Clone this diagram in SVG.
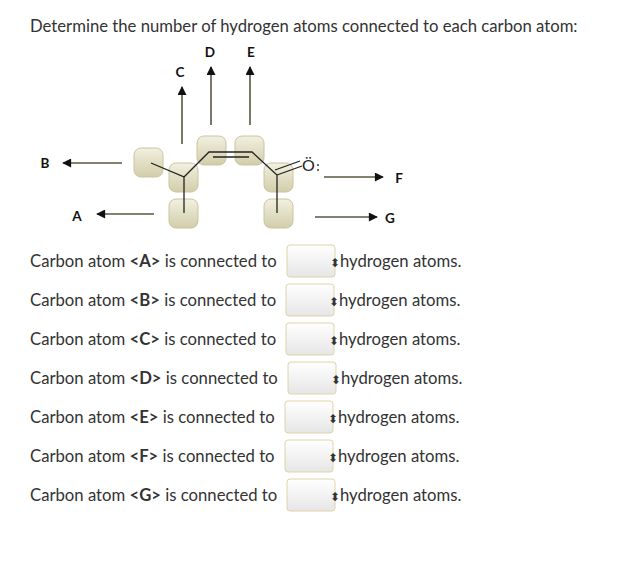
<svg xmlns="http://www.w3.org/2000/svg" width="641" height="562" viewBox="0 0 641 562">
<defs>
<linearGradient id="bg" x1="0" y1="0" x2="0" y2="1"><stop offset="0" stop-color="#f2f0e0"/><stop offset="1" stop-color="#d2cdaa"/></linearGradient>
<linearGradient id="sel" x1="0" y1="0" x2="0" y2="1"><stop offset="0" stop-color="#ffffff"/><stop offset="1" stop-color="#e6e6e6"/></linearGradient>
<marker id="ah" viewBox="0 0 10 10" refX="9" refY="5" markerWidth="11" markerHeight="9" markerUnits="userSpaceOnUse" orient="auto"><path d="M0,0L10,5L0,10z" fill="#111"/></marker>
</defs>
<style>
text{font-family:Lato,"Open Sans",sans-serif;fill:#333}
.t{font-size:16.7px}
.l{font-size:13.5px;font-weight:bold;fill:#111;text-anchor:middle}
.box{fill:url(#bg);stroke:#c9c4a0;stroke-width:1}
.bond{stroke:#222;stroke-width:1.3;fill:none}
.arr{stroke:#5a5640;stroke-width:1.6;marker-end:url(#ah)}
.sel{fill:url(#sel);stroke:#ddd4a8;stroke-width:1}
.ud{font-size:12px}
</style>
<rect width="641" height="562" fill="#fff"/>
<text class="t" x="30" y="32">Determine the number of hydrogen atoms connected to each carbon atom:</text>
<g id="boxes">
<rect class="box" x="134" y="148" width="29" height="29" rx="7"/>
<rect class="box" x="169" y="163" width="29" height="29" rx="7"/>
<rect class="box" x="169" y="199" width="29" height="29" rx="7"/>
<rect class="box" x="197" y="136" width="29" height="29" rx="7"/>
<rect class="box" x="235" y="136" width="29" height="29" rx="7"/>
<rect class="box" x="264" y="163" width="29" height="29" rx="7"/>
<rect class="box" x="264" y="199" width="29" height="29" rx="7"/>
</g>
<g id="bonds">
<path class="bond" d="M151,163L184,177L184,213M184,177L209,152L252,152L277,175L277,213M213,157L249,157M277,175L302,166M275,170L300,161"/>
<text x="302" y="171" style="font-size:16px;fill:#222">Ö</text>
<circle cx="318" cy="165" r="0.9" fill="#222"/><circle cx="318" cy="170" r="0.9" fill="#222"/>
</g>
<g id="connectors">
<line class="arr" x1="182" y1="144" x2="182" y2="87"/>
<line class="arr" x1="211" y1="125" x2="211" y2="67"/>
<line class="arr" x1="250" y1="125" x2="250" y2="67"/>
<line class="arr" x1="122" y1="163" x2="63" y2="163"/>
<line class="arr" x1="154" y1="214" x2="97" y2="214"/>
<line class="arr" x1="324" y1="177" x2="383" y2="177"/>
<line class="arr" x1="315" y1="217" x2="377" y2="217"/>
</g>
<g id="labels">
<text class="l" x="180" y="77">C</text>
<text class="l" x="210" y="57">D</text>
<text class="l" x="251" y="57">E</text>
<text class="l" x="45" y="168">B</text>
<text class="l" x="77" y="221">A</text>
<text class="l" x="399" y="183">F</text>
<text class="l" x="390" y="223">G</text>
</g>
<g id="rows">
<g id="rowA"><text class="t" x="30" y="267">Carbon atom <tspan font-weight="bold">&lt;A&gt;</tspan> is connected to</text><rect class="sel" x="287" y="245" width="48" height="32" rx="3"/><text class="ud" x="330" y="267">⬍</text><text class="t" x="340" y="267">hydrogen atoms.</text></g>
<g id="rowB"><text class="t" x="30" y="306">Carbon atom <tspan font-weight="bold">&lt;B&gt;</tspan> is connected to</text><rect class="sel" x="286" y="284" width="48" height="32" rx="3"/><text class="ud" x="329" y="306">⬍</text><text class="t" x="339" y="306">hydrogen atoms.</text></g>
<g id="rowC"><text class="t" x="30" y="345">Carbon atom <tspan font-weight="bold">&lt;C&gt;</tspan> is connected to</text><rect class="sel" x="286" y="323" width="48" height="32" rx="3"/><text class="ud" x="329" y="345">⬍</text><text class="t" x="339" y="345">hydrogen atoms.</text></g>
<g id="rowD"><text class="t" x="30" y="384">Carbon atom <tspan font-weight="bold">&lt;D&gt;</tspan> is connected to</text><rect class="sel" x="288" y="362" width="48" height="32" rx="3"/><text class="ud" x="331" y="384">⬍</text><text class="t" x="341" y="384">hydrogen atoms.</text></g>
<g id="rowE"><text class="t" x="30" y="423">Carbon atom <tspan font-weight="bold">&lt;E&gt;</tspan> is connected to</text><rect class="sel" x="285" y="401" width="48" height="32" rx="3"/><text class="ud" x="328" y="423">⬍</text><text class="t" x="338" y="423">hydrogen atoms.</text></g>
<g id="rowF"><text class="t" x="30" y="462">Carbon atom <tspan font-weight="bold">&lt;F&gt;</tspan> is connected to</text><rect class="sel" x="285" y="440" width="48" height="32" rx="3"/><text class="ud" x="328" y="462">⬍</text><text class="t" x="338" y="462">hydrogen atoms.</text></g>
<g id="rowG"><text class="t" x="30" y="501">Carbon atom <tspan font-weight="bold">&lt;G&gt;</tspan> is connected to</text><rect class="sel" x="287" y="479" width="48" height="32" rx="3"/><text class="ud" x="330" y="501">⬍</text><text class="t" x="340" y="501">hydrogen atoms.</text></g>
</g>
</svg>
